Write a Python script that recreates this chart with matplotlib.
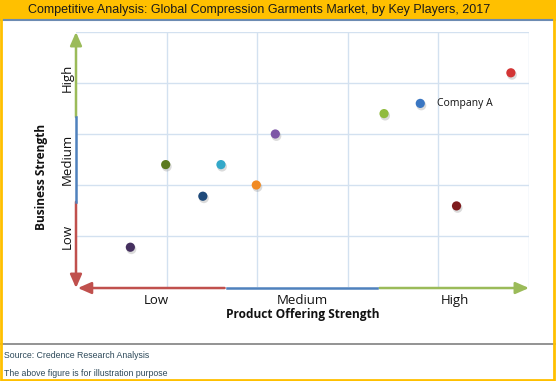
import matplotlib
matplotlib.use("Agg")
import matplotlib.pyplot as plt
from matplotlib.patches import Rectangle
from matplotlib.lines import Line2D

# ---- data ----
title = "Competitive Analysis: Global Compression Garments Market, by Key Players, 2017"
x_levels = ["Low", "Medium", "High"]
y_levels = ["Low", "Medium", "High"]
x_label = "Product Offering Strength"
y_label = "Business Strength"
companies = ["P1", "P2", "P3", "P4", "P5", "P6", "P7", "Company A", "P9", "P10"]
product_strength = [0.60, 0.99, 1.40, 1.60, 1.99, 2.20, 3.40, 3.80, 4.80, 4.20]
business_strength = [0.78, 2.40, 1.78, 2.40, 2.00, 3.00, 3.40, 3.60, 4.20, 1.59]
colors = ["#45305F", "#5B7A1F", "#1F4A7A", "#33A8C9", "#F18A22", "#7D56A6",
          "#90BB3F", "#3A76C2", "#D33535", "#7E1B1D"]
labelled = "Company A"
footer1 = "Source: Credence Research Analysis"
footer2 = "The above figure is for illustration purpose"

W, H = 556, 381
fig = plt.figure(figsize=(W / 100, H / 100), dpi=100)
fig.patch.set_facecolor("white")

def fx(px):
    return px / W

def fy(py):
    return 1 - py / H

# title bar
fig.patches.append(Rectangle((0, fy(19)), 1, 19 / H, transform=fig.transFigure,
                             facecolor="#FFC000", edgecolor="none", zorder=0))
fig.lines.append(Line2D([0, 1], [fy(19.5), fy(19.5)], transform=fig.transFigure,
                        color="#6C8BB2", lw=1.5))
fig.text(fx(259), fy(10), title, ha="center", va="center", fontsize=9,
         family="Liberation Sans", color="#1A1A1A")
# footer separator
fig.lines.append(Line2D([0, 1], [fy(344), fy(344)], transform=fig.transFigure,
                        color="#808080", lw=1.2))
fig.text(fx(4), fy(355), footer1, ha="left", va="center", fontsize=6.3,
         family="Liberation Sans", color="#2E4A5A")
fig.text(fx(4), fy(373), footer2, ha="left", va="center", fontsize=6.3,
         family="Liberation Sans", color="#2E4A5A")
# outer border
fig.patches.append(Rectangle((0.002, 0.003), 0.995, 0.994, transform=fig.transFigure,
                             facecolor="none", edgecolor="#FFC000", lw=2, zorder=10))

ax = fig.add_axes([fx(76), fy(287), fx(529) - fx(76), (287 - 32) / H])
ax.set_xlim(0, 5)
ax.set_ylim(0, 5)
for s in ax.spines.values():
    s.set_visible(False)
ax.set_xticks([])
ax.set_yticks([])
grid_c = "#D3E1F0"
for v in range(1, 6):
    ax.axvline(v, color=grid_c, lw=1, zorder=1)
    ax.axhline(v, color=grid_c, lw=1, zorder=1)

# shadows + points
ax.scatter([x + 0.012 for x in product_strength], [y - 0.04 for y in business_strength],
           s=50, color="#8A8A8A", alpha=0.3, edgecolors="none", zorder=2)
ax.scatter(product_strength, business_strength, s=44, c=colors, edgecolors="none", zorder=3)
for name, x, y in zip(companies, product_strength, business_strength):
    if name == labelled:
        ax.text(x + 0.18, y, name, ha="left", va="center", fontsize=7.5,
                family="Open Sans", color="#111111")

red, blue, green = "#C0504D", "#4F81BD", "#9BBB59"
lw = 1.8
hs = "-|>,head_length=0.8,head_width=0.35"
# vertical axis
ax.annotate("", xy=(0, -0.02), xytext=(0, 1.67), xycoords="data",
            arrowprops=dict(arrowstyle=hs, color=red, lw=lw,
                            shrinkA=0, shrinkB=0), annotation_clip=False)
ax.plot([0, 0], [1.67, 3.33], color=blue, lw=lw, clip_on=False, zorder=4)
ax.annotate("", xy=(0, 5.0), xytext=(0, 3.33), xycoords="data",
            arrowprops=dict(arrowstyle=hs, color=green, lw=lw,
                            shrinkA=0, shrinkB=0), annotation_clip=False)
# horizontal axis
ax.annotate("", xy=(0.02, -0.02), xytext=(1.64, -0.02), xycoords="data",
            arrowprops=dict(arrowstyle=hs, color=red, lw=lw,
                            shrinkA=0, shrinkB=0), annotation_clip=False)
ax.plot([1.67, 3.32], [-0.02, -0.02], color=blue, lw=lw, clip_on=False, zorder=4)
ax.annotate("", xy=(5.0, -0.02), xytext=(3.35, -0.02), xycoords="data",
            arrowprops=dict(arrowstyle=hs, color=green, lw=lw,
                            shrinkA=0, shrinkB=0), annotation_clip=False)

# level labels
for lab, xc in zip(x_levels, [0.89, 2.5, 4.18]):
    ax.text(xc, -0.27, lab, ha="center", va="center", fontsize=9.5,
            family="Open Sans", color="#111111", clip_on=False)
for lab, yc in zip(y_levels, [0.99, 2.5, 4.1]):
    ax.text(-0.1, yc, lab, ha="center", va="center", fontsize=9.5, rotation=90,
            family="Open Sans", color="#111111", clip_on=False)
ax.text(2.5, -0.54, x_label, ha="center", va="center", fontsize=8.6, fontweight="bold",
        family="Open Sans", color="#111111", clip_on=False)
ax.text(-0.38, 2.15, y_label, ha="center", va="center", fontsize=8.6, fontweight="bold",
        rotation=90, family="Open Sans", color="#111111", clip_on=False)

fig.savefig("out.png", dpi=100)
